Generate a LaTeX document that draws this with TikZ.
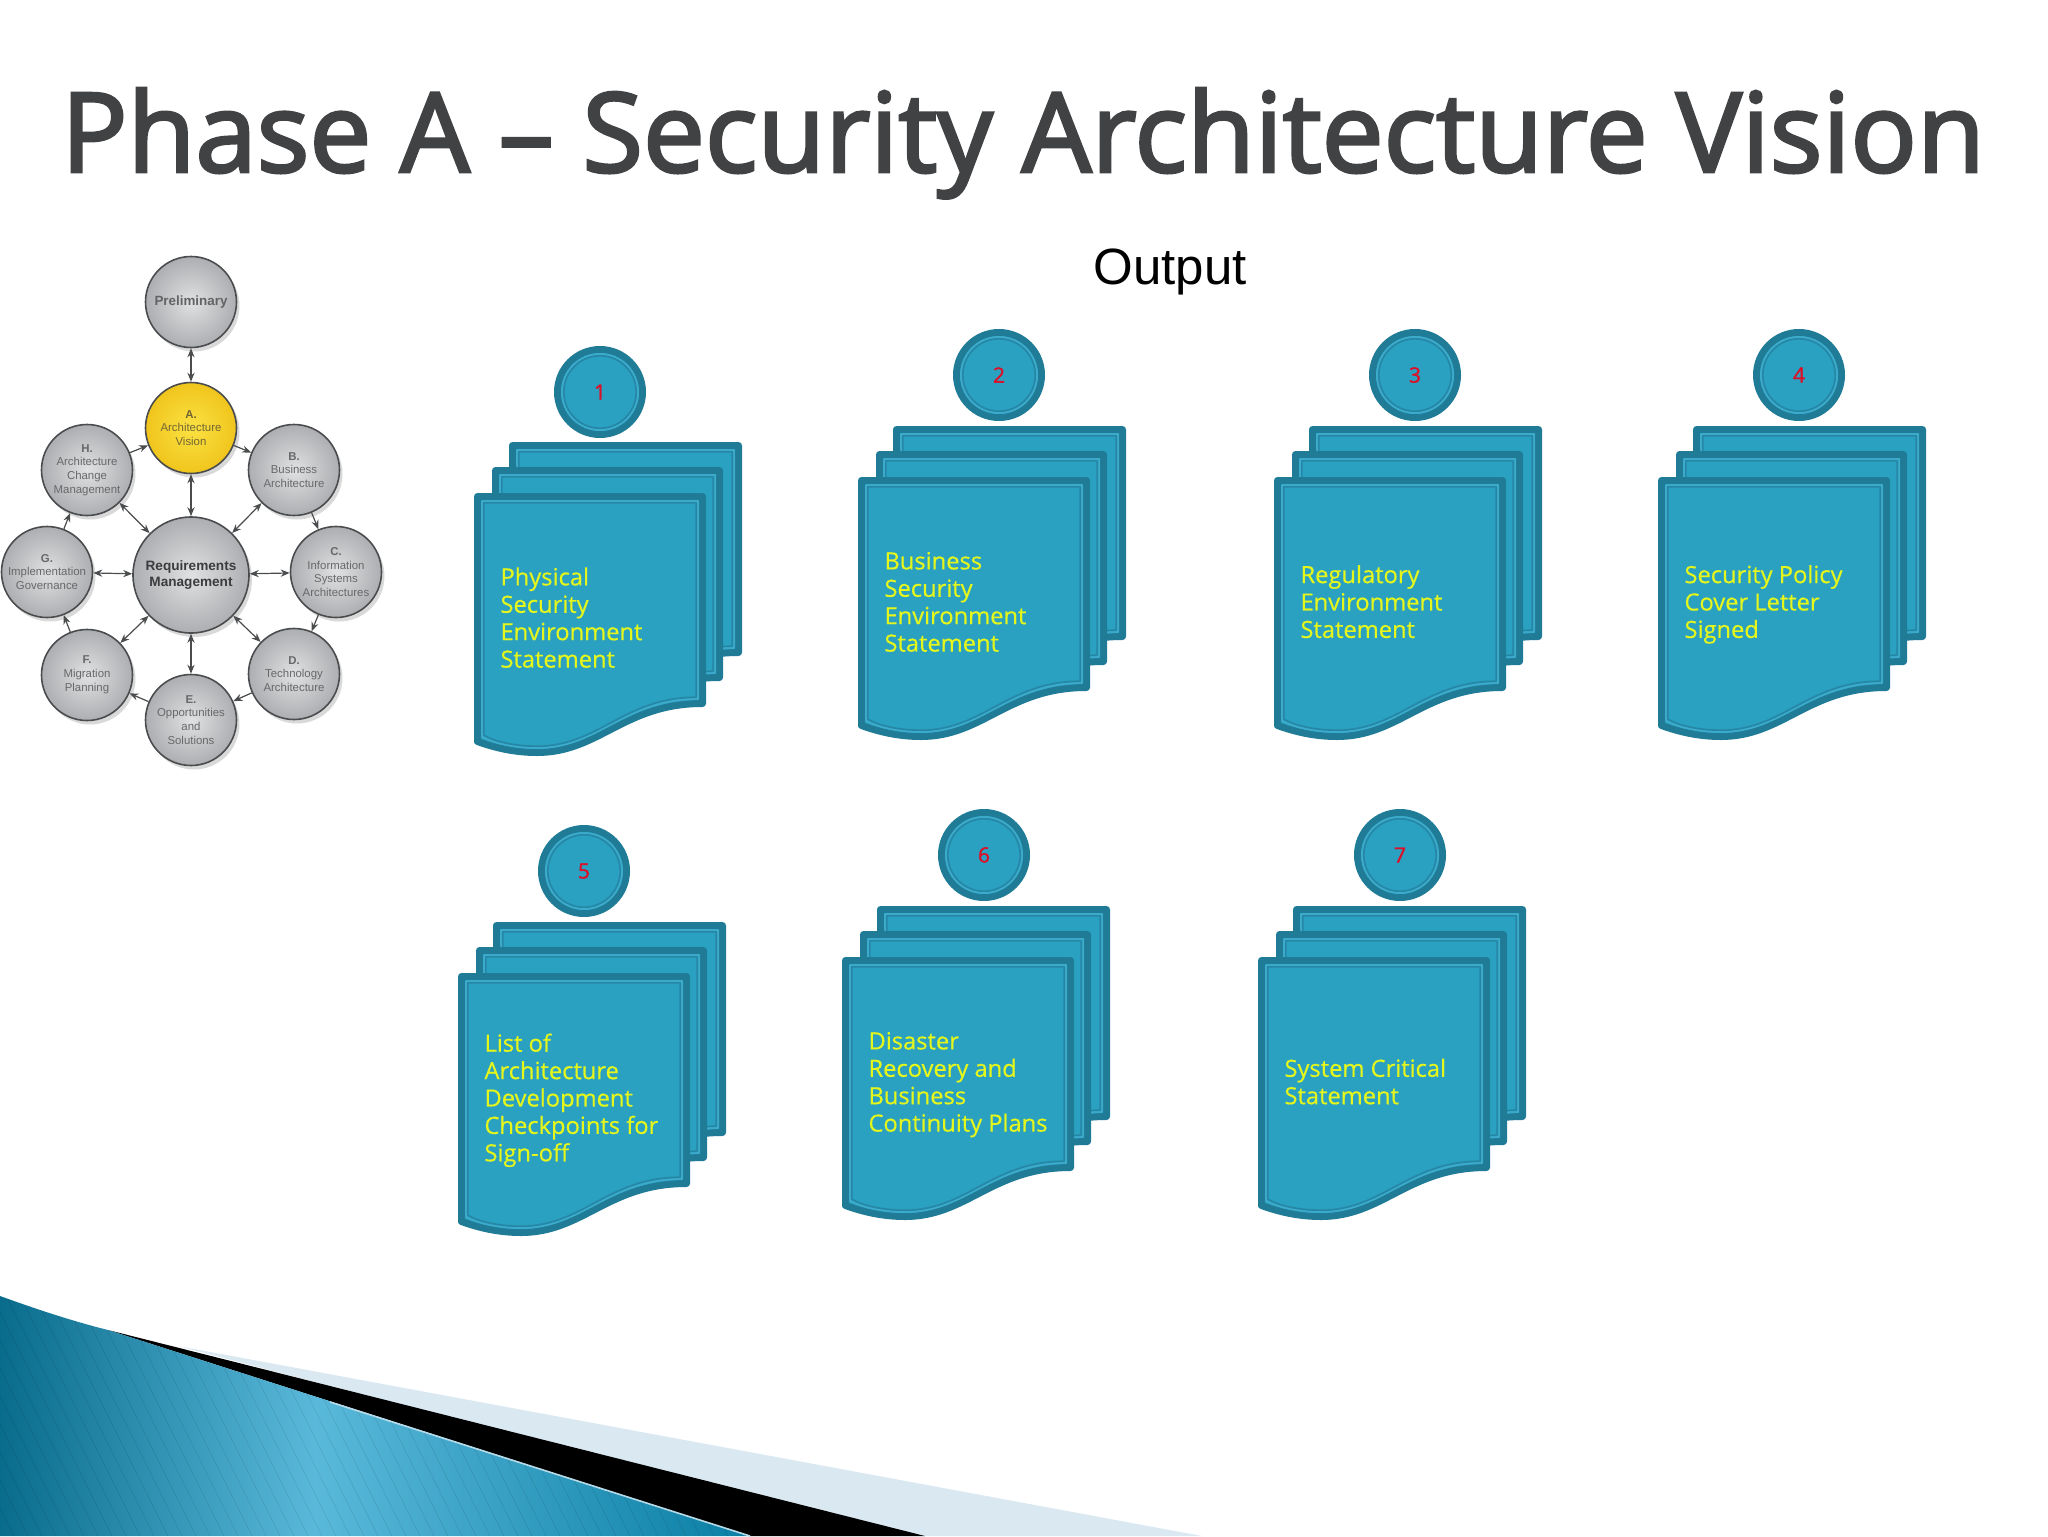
\documentclass[tikz,border=0pt]{standalone}
\usepackage{fontspec}
\setmainfont{Liberation Sans}
\newfontfamily\docfamily[FakeBold=0.5]{Open Sans}
\newfontfamily\numfamily[FakeBold=1.5]{Open Sans}
\newfontfamily\titlefamily[FakeBold=2.6]{Open Sans}
\usetikzlibrary{arrows.meta,shadows}
\definecolor{docdark}{HTML}{1F7B96}
\definecolor{docfill}{HTML}{2BA1C2}
\definecolor{docline}{HTML}{3CAACA}
\definecolor{docthin}{HTML}{2586A6}
\definecolor{docyellow}{HTML}{E4F61C}
\definecolor{numred}{HTML}{DC1028}
\definecolor{titlegray}{HTML}{404243}
\definecolor{ballin}{HTML}{DFE1E2}
\definecolor{ballout}{HTML}{ACAEB1}
\definecolor{ballline}{HTML}{4A4C4E}
\definecolor{lblgray}{HTML}{66686A}
\definecolor{lbldark}{HTML}{3A3C3E}
\definecolor{goldin}{HTML}{FBE243}
\definecolor{goldout}{HTML}{F0C51C}
\definecolor{waveA}{HTML}{0A6C8C}
\definecolor{waveB}{HTML}{5AB9DB}
\definecolor{waveC}{HTML}{0A7FA4}
\definecolor{paleblue}{HTML}{D9E8F1}
\pgfdeclarehorizontalshading{waveshade}{100bp}{color(0bp)=(waveA); color(25bp)=(waveA); color(46bp)=(waveB); color(75bp)=(waveC); color(100bp)=(waveC)}
\tikzset{
  ball/.style={circle,draw=ballline,line width=.8pt,inner color=ballin,outer color=ballout,
    minimum size=45.5pt,inner sep=0pt,align=center,font=\fontsize{5.7pt}{6.9pt}\selectfont,text=lblgray,
    drop shadow={shadow xshift=1.5pt,shadow yshift=-2pt,opacity=.25,fill=black!60}},
  bigball/.style={ball,minimum size=58pt,font=\fontsize{6.8pt}{8.2pt}\selectfont\bfseries,text=lbldark},
  goldball/.style={ball,inner color=goldin,outer color=goldout,text=lbldark!70!goldout},
  link/.style={draw=ballline,line width=.6pt,-{Stealth[length=4.5pt,width=3.6pt]}},
  linkboth/.style={draw=ballline,line width=.6pt,{Stealth[length=4.5pt,width=3.6pt]}-{Stealth[length=4.5pt,width=3.6pt]}},
  docband/.style={draw=docdark,line width=3.5pt,line join=round,fill=docfill},
  docinnerlight/.style={draw=docline,line width=1pt,line join=round},
  docinnerdark/.style={draw=docthin,line width=.8pt,line join=round},
  doctext/.style={anchor=west,inner sep=0pt,outer sep=0pt,align=left,text=docyellow,
    font=\docfamily\fontsize{11.85pt}{13.7pt}\selectfont},
  numdisc/.style={circle,draw=docdark,line width=3.5pt,fill=docfill,minimum size=42.5pt,inner sep=0pt,
    text=numred,font=\numfamily\fontsize{10.5pt}{12pt}\selectfont},
  numring/.style={line width=1pt,draw=docline},
  numringdark/.style={line width=.8pt,draw=docthin},
  titletext/.style={anchor=base,inner sep=0pt,text=titlegray,font=\titlefamily\fontsize{55.2pt}{60pt}\selectfont},
  outputtext/.style={inner sep=0pt,text=black,font=\fontsize{25.5pt}{30pt}\selectfont}
}
% #1 inset, #2 width
\newcommand{\pagepath}[2]{({#1},{#1}) -- ({#2-#1},{#1}) -- ({#2-#1},{214-#1})
  .. controls ({150},{214-#1}) and ({125},{263-#1}) .. ({63},{263-#1})
  .. controls ({40},{263-#1}) and ({20},{258-#1}) .. ({#1},{252-#1}) -- cycle}
\newcommand{\onepage}[3]{\begin{scope}[shift={(#1,#2)}]
  \draw[docband] \pagepath{3.5}{#3};
  \draw[docinnerlight] \pagepath{8}{#3};
  \draw[docinnerdark] \pagepath{9.8}{#3};
\end{scope}}
% #1 id, #2 left, #3 top, #4 circle x, #5 circle y, #6 number, #7 text
\newcommand{\docstack}[7]{%
  \onepage{#2+35}{#3-51}{233}
  \onepage{#2+18}{#3-26}{231}
  \onepage{#2}{#3}{232}
  \node[doctext] (doc#1) at (#2+26.5,#3+128) {\strut #7\strut};
  \node[numdisc] (num#1) at (#4,#5) {#6};
  \draw[numring] (num#1.center) circle[radius=38];
  \draw[numringdark] (num#1.center) circle[radius=36.2];
}
\begin{document}
\begin{tikzpicture}[x=.5pt,y=-.5pt]
\useasboundingbox (0,0) rectangle (2048,1536);
% title
\node[titletext] (title) at (1023,172) {Phase A – Security Architecture Vision};
\node[outputtext] (output) at (1170,272) {Output};
% bottom wave
\fill[paleblue] (178,1346) -- (1202,1536) -- (900,1536) -- cycle;
\fill[black] (108,1330) -- (925,1536) -- (750,1536) -- cycle;
\begin{scope}
  \clip (0,1296) .. controls (36,1309) and (72,1321) .. (108,1330) -- (750,1536) -- (0,1536) -- cycle;
  \shade[shading=waveshade] (0,1296) rectangle (750,1536);
  \foreach \s in {-120,-106,...,760}
    \draw[black,opacity=.07,line width=.5pt] (\s,1296) -- (\s+120,1536);
\end{scope}
\draw[paleblue!80!docfill,line width=.8pt] (330,1402) -- (750,1536);
% cycle
\node[ball,font=\fontsize{6.7pt}{8pt}\selectfont\bfseries,text=lbldark!80!white] (prelim) at (191,302) {Preliminary};
\node[goldball] (a) at (191,428) {\textbf{A.}\\Architecture\\Vision};
\node[ball] (b) at (294,470) {\textbf{B.}\\Business\\Architecture};
\node[ball] (c) at (336,572) {\textbf{C.}\\Information\\Systems\\Architectures};
\node[ball] (d) at (294,674) {\textbf{D.}\\Technology\\Architecture};
\node[ball] (e) at (191,720) {\textbf{E.}\\Opportunities\\and\\Solutions};
\node[ball] (f) at (87,675) {\textbf{F.}\\Migration\\Planning};
\node[ball] (g) at (47,572) {\textbf{G.}\\Implementation\\Governance};
\node[ball] (h) at (87,470) {\textbf{H.}\\Architecture\\Change\\Management};
\node[bigball] (rm) at (191,575) {Requirements\\Management};
\draw[linkboth] (prelim) -- (a);
\foreach \n in {a,b,c,d,e,f,g,h} \draw[linkboth] (rm) -- (\n);
\draw[link] (a) -- (b);
\draw[link] (b) -- (c);
\draw[link] (c) -- (d);
\draw[link] (d) -- (e);
\draw[link] (e) -- (f);
\draw[link] (f) -- (g);
\draw[link] (g) -- (h);
\draw[link] (h) -- (a);
% documents
\docstack{1}{474}{493}{600}{392}{1}{Physical\\Security\\Environment\\Statement}
\docstack{2}{858}{477}{999}{375}{2}{Business\\Security\\Environment\\Statement}
\docstack{3}{1274}{477}{1415}{375}{3}{Regulatory\\Environment\\Statement}
\docstack{4}{1658}{477}{1799}{375}{4}{Security Policy\\Cover Letter\\Signed}
\docstack{5}{458}{973}{584}{871}{5}{List of\\Architecture\\Development\\Checkpoints for\\Sign-off}
\docstack{6}{842}{957}{984}{855}{6}{Disaster\\Recovery and\\Business\\Continuity Plans}
\docstack{7}{1258}{957}{1400}{855}{7}{System Critical\\Statement}
\end{tikzpicture}
\end{document}
